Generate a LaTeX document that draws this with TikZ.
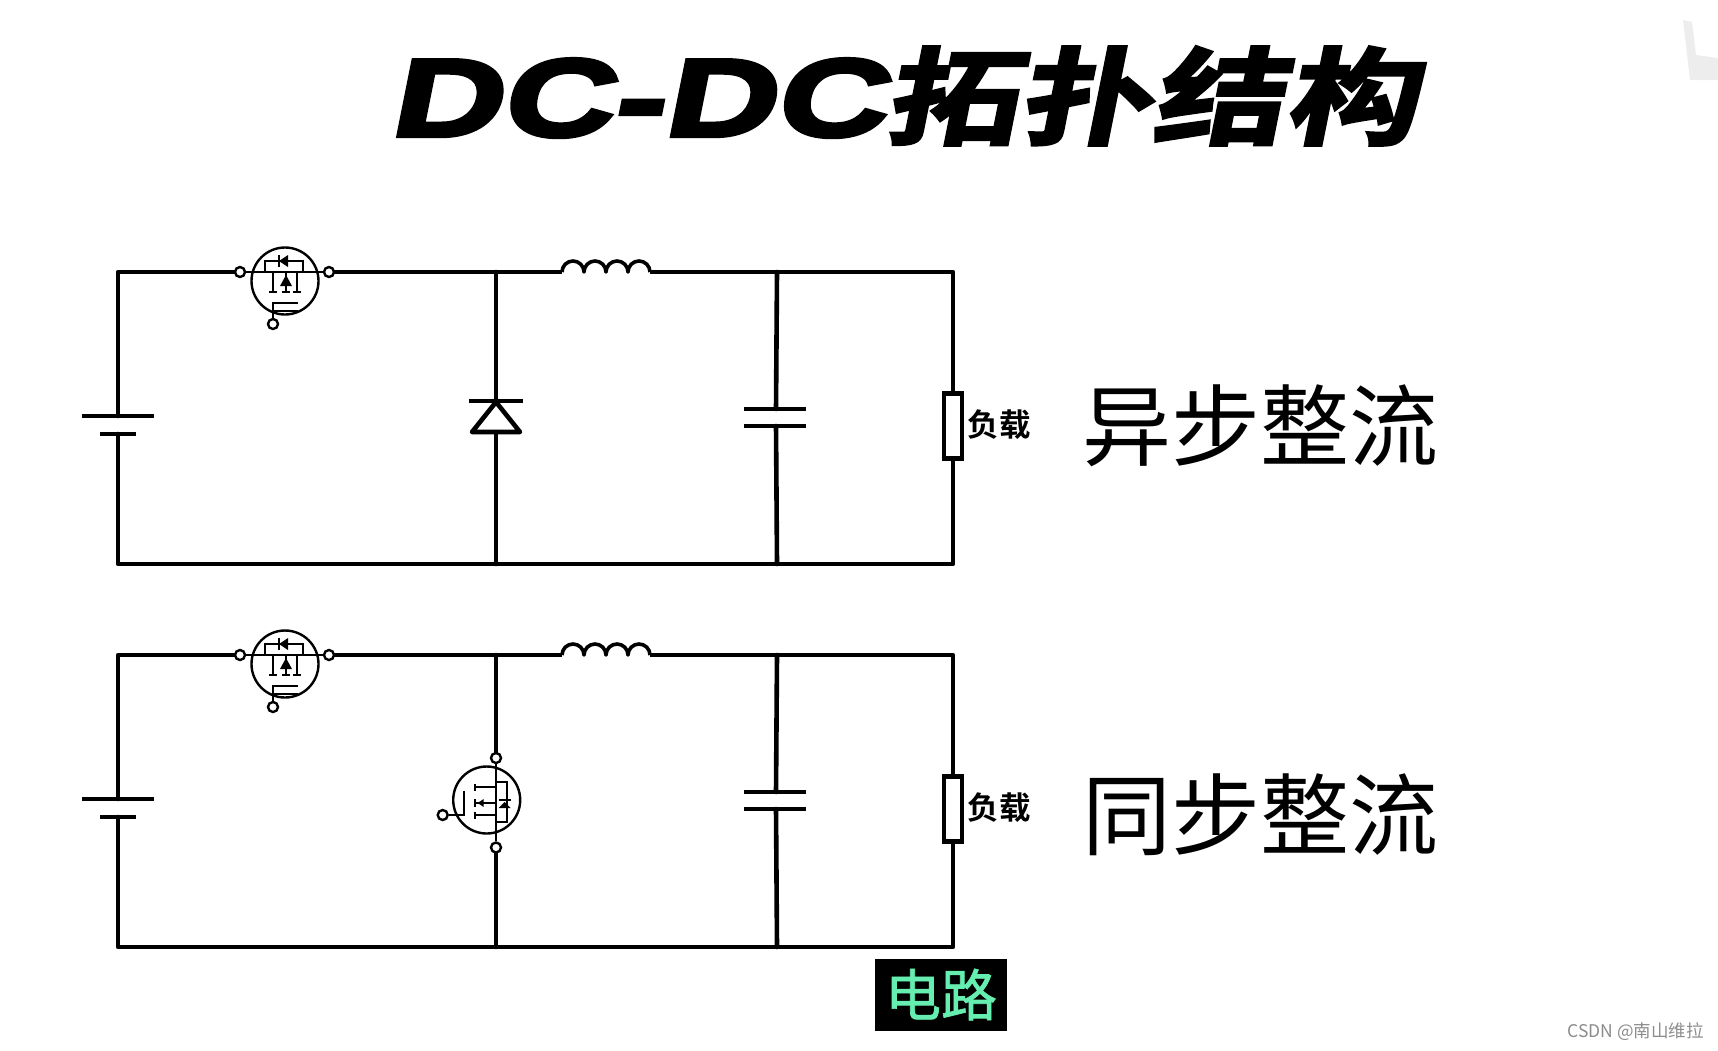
\documentclass[tikz,border=0pt]{standalone}
\usepackage{fontspec}
\setmainfont{Noto Sans CJK SC}
\newfontfamily\titlecjk[FakeSlant=0.2,FakeBold=3,FakeStretch=1.27]{Noto Sans CJK SC Bold}
\newfontfamily\titlelat[FakeSlant=0.2,FakeBold=4,FakeStretch=1.4]{Liberation Sans Bold}
\newfontfamily\boldcjk{Noto Sans CJK SC Bold}
\newfontfamily\tagcjk[FakeBold=1.2]{Noto Sans CJK SC}
\definecolor{mintc}{HTML}{66EEB0}
\tikzset{
  wire/.style={line width=4.6pt, line cap=round, line join=round},
  thin/.style={line width=2.4pt},
  term/.style={circle, draw, line width=2.4pt, fill=white, minimum size=10pt, inner sep=0pt},
  load/.style={draw, line width=4.4pt, fill=white, minimum width=18pt, minimum height=65pt, inner sep=0pt},
  loadtxt/.style={font=\boldcjk\fontsize{31.5}{31.5}\selectfont, inner sep=0pt},
  big/.style={font=\fontsize{89}{89}\selectfont, inner sep=0pt},
  hmos/.pic={
    \draw[thin] (0,0) circle (33.5);
    \node[term] (-l) at (-45,-9) {};
    \node[term] (-r) at (44,-9) {};
    \node[term] (-g) at (-12,43) {};
    \draw[thin] (-l) -- (-r);
    \draw[thin] (-20,-9) -- (-20,-20) -- (18,-20) -- (18,-9);
    \fill (-6,-20) -- (3,-26) -- (3,-14) -- cycle;
    \draw[thin] (-6,-26) -- (-6,-14);
    \draw[thin] (-12,-9) -- (-12,11) (-16,11) -- (-8,11);
    \draw[thin] (12,-9) -- (12,11) (8,11) -- (16,11);
    \draw[thin] (1,-8) -- (1,11) (-3,11) -- (5,11);
    \fill (1,-6) -- (7,5) -- (-5,5) -- cycle;
    \draw[thin] (-g) -- (-12,22) -- (13,22);
    \draw[thin] (-12,30) -- (13,30);
  },
  vmos/.pic={
    \draw[thin] (0,0) circle (33.5);
    \node[term] (-t) at (9.3,-42) {};
    \node[term] (-b) at (9.3,47.5) {};
    \node[term] (-g) at (-44,15) {};
    \draw[thin] (-t) -- (-b);
    \draw[thin] (9.3,-18) -- (20,-18) -- (20,22) -- (9.3,22);
    \fill (18,2) -- (12,8) -- (24,8) -- cycle;
    \draw[thin] (12,0) -- (24,0);
    \draw[thin] (-12,-13) -- (9.3,-13) (-12,-16) -- (-12,-9);
    \draw[thin] (-12,3) -- (9.3,3) (-12,-1) -- (-12,7);
    \draw[thin] (-12,15) -- (9.3,15) (-12,12) -- (-12,19);
    \fill (-9,3) -- (-3,-1) -- (-3,7) -- cycle;
    \draw[thin] (-g) -- (-23,15) -- (-23,-9);
  },
}
\begin{document}
\begin{tikzpicture}[x=1pt, y=-1pt]
\useasboundingbox (0,0) rectangle (1718,1050);
% title
\node[anchor=west, inner sep=0pt] (title) at (388,96) {{\titlelat\fontsize{110}{110}\selectfont DC-DC}{\titlecjk\fontsize{105}{105}\selectfont 拓扑结构}};
% upper circuit
\coordinate (tl1) at (118,272);
\coordinate (tr1) at (953,272);
\coordinate (bl1) at (118,564);
\coordinate (br1) at (953,564);
\coordinate (dt1) at (496,272);
\coordinate (db1) at (496,564);
\coordinate (ct1) at (777,272);
\coordinate (cb1) at (777,564);
\coordinate (li1) at (562,272);
\coordinate (lo1) at (650,272);
\coordinate (ba1) at (118,416);
\coordinate (bb1) at (118,434);
\coordinate (ca1) at (776,409);
\coordinate (cc1) at (776,426);
\pic (qa) at (285,281) {hmos};
\draw[wire] (qa-l.west) -- (tl1) -- (ba1);
\draw[wire] (bb1) -- (bl1) -- (br1) -- (tr1) -- (qa-r.east);
\draw[wire, white, line width=6pt, line cap=butt] (li1) -- (lo1);
\draw[wire] (dt1) -- (db1);
\draw[wire] (ct1) -- (ca1);
\draw[wire] (cc1) -- (cb1);
\draw[wire, line width=3.6pt, line cap=butt] (li1) \foreach \k in {1,...,4} {arc[start angle=180, end angle=360, radius=11]};
\draw[wire, line cap=butt] ([xshift=-36pt]ba1) -- ([xshift=36pt]ba1);
\draw[wire, line cap=butt] ([xshift=-18pt]bb1) -- ([xshift=18pt]bb1);
\draw[wire, line cap=butt] ([xshift=-32pt]ca1) -- ([xshift=30pt]ca1);
\draw[wire, line cap=butt] ([xshift=-32pt]cc1) -- ([xshift=30pt]cc1);
\draw[wire, fill=white] (472,432) -- (520,432) -- (496,402) -- cycle;
\draw[wire, line cap=butt] (469,401) -- (523,401);
\node[load] (ra1) at (953,426) {};
\node[loadtxt] (la1) at (999,425) {负载};
\node[big] (ta) at (1260,426) {异步整流};
% lower circuit
\coordinate (tl2) at (118,655);
\coordinate (tr2) at (953,655);
\coordinate (bl2) at (118,947);
\coordinate (br2) at (953,947);
\coordinate (dt2) at (496,655);
\coordinate (db2) at (496,947);
\coordinate (ct2) at (777,655);
\coordinate (cb2) at (777,947);
\coordinate (li2) at (562,655);
\coordinate (lo2) at (650,655);
\coordinate (ba2) at (118,799);
\coordinate (bb2) at (118,817);
\coordinate (ca2) at (776,792);
\coordinate (cc2) at (776,809);
\pic (qb) at (285,664) {hmos};
\pic (qc) at (486.7,800) {vmos};
\draw[wire] (qb-l.west) -- (tl2) -- (ba2);
\draw[wire] (bb2) -- (bl2) -- (br2) -- (tr2) -- (qb-r.east);
\draw[wire, white, line width=6pt, line cap=butt] (li2) -- (lo2);
\draw[wire] (dt2) -- (qc-t.north);
\draw[wire] (qc-b.south) -- (db2);
\draw[wire] (ct2) -- (ca2);
\draw[wire] (cc2) -- (cb2);
\draw[wire, line width=3.6pt, line cap=butt] (li2) \foreach \k in {1,...,4} {arc[start angle=180, end angle=360, radius=11]};
\draw[wire, line cap=butt] ([xshift=-36pt]ba2) -- ([xshift=36pt]ba2);
\draw[wire, line cap=butt] ([xshift=-18pt]bb2) -- ([xshift=18pt]bb2);
\draw[wire, line cap=butt] ([xshift=-32pt]ca2) -- ([xshift=30pt]ca2);
\draw[wire, line cap=butt] ([xshift=-32pt]cc2) -- ([xshift=30pt]cc2);
\node[load] (ra2) at (953,809) {};
\node[loadtxt] (la2) at (999,808) {负载};
\node[big] (tb) at (1260,815) {同步整流};
% tag and mark
\node[fill=black, text=mintc, font=\tagcjk\fontsize{56}{56}\selectfont, minimum width=132pt, minimum height=72pt, inner sep=0pt] (tag) at (941,994.5) {电路};
\node[text=black!45, font=\fontsize{17.5}{17.5}\selectfont, anchor=east, inner sep=0pt] (mark) at (1704,1032) {CSDN @南山维拉};
\fill[black!7] (1683,20) -- (1692,22) -- (1696,55) -- (1718,58) -- (1718,80) -- (1690,80) -- cycle;
\end{tikzpicture}
\end{document}
